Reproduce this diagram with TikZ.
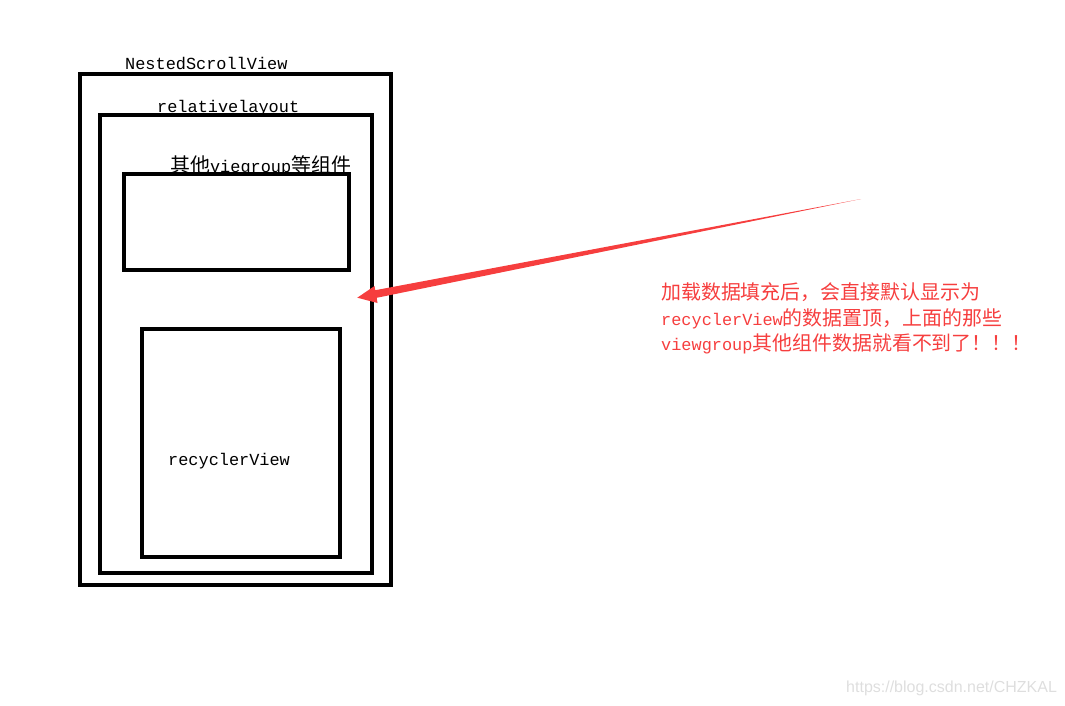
\documentclass[tikz,border=0pt]{standalone}
\usepackage{fontspec}
\newfontfamily\lat{Liberation Mono}
\newfontfamily\cjk[Scale=1.18]{Noto Sans CJK SC}
\newfontfamily\wm{Liberation Sans}
\definecolor{arrowred}{RGB}{246,62,62}
\definecolor{wmgrey}{RGB}{222,222,222}
\tikzset{
  box/.style={draw=black, line width=4.6pt},
  lbl/.style={anchor=base west, inner sep=0pt, font=\lat\fontsize{16.9}{20}\selectfont},
  note/.style={anchor=base west, inner sep=0pt, text=arrowred, font=\lat\fontsize{16.9}{20}\selectfont},
}
\begin{document}
\begin{tikzpicture}[x=1pt,y=-1pt]
\useasboundingbox (0,0) rectangle (1065,705);
% boxes
\draw[box] (80,74) rectangle (391,585);
\draw[box] (100,115) rectangle (372,573);
\node[lbl] (nsv) at (125,69) {NestedScrollView};
\node[lbl] (rl) at (157,112) {relativelayout};
\node[lbl] (other) at (170,172) {{\cjk 其他}viegroup{\cjk 等组件}};
\draw[box] (124,174) rectangle (349,270);
\draw[box] (142,329) rectangle (340,557);
\node[lbl] (rv) at (168,465) {recyclerView};
% arrow
\fill[arrowred] (861,199) -- (376.7,297.8) -- (377.5,303) -- (357.3,297.7) -- (374.5,286) -- (375.3,290.2) -- cycle;
% note
\node[note] (note1) at (661,299) {{\cjk 加载数据填充后，会直接默认显示为}};
\node[note] (note2) at (661,325) {recyclerView{\cjk 的数据置顶，上面的那些}};
\node[note] (note3) at (661,350) {viewgroup{\cjk 其他组件数据就看不到了！！！}};
\node[anchor=base west, inner sep=0pt, text=wmgrey, font=\wm\fontsize{16}{18}\selectfont] (wm) at (846,692) {https://blog.csdn.net/CHZKAL};
\end{tikzpicture}
\end{document}
